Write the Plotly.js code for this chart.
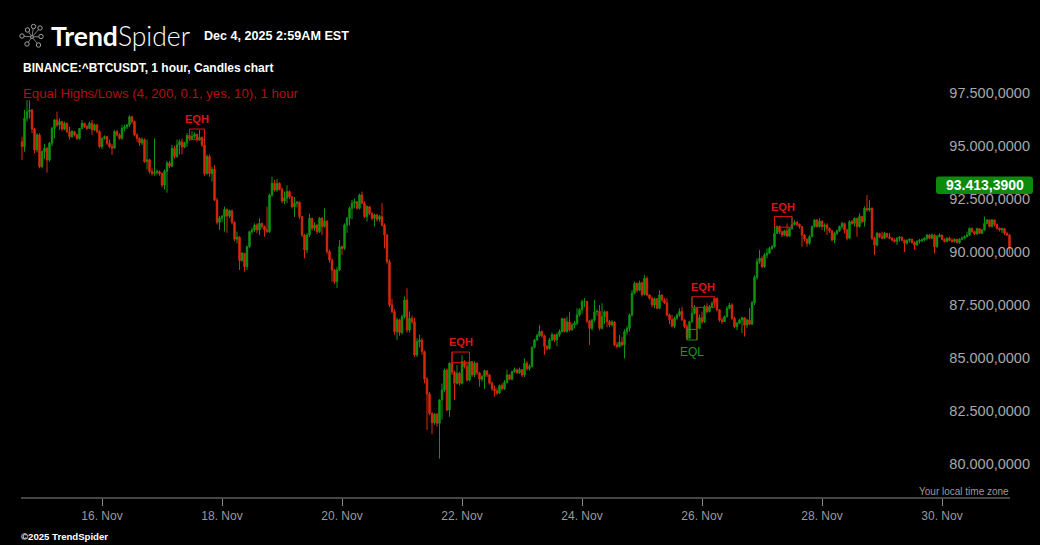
<!DOCTYPE html>
<html><head><meta charset="utf-8">
<script src="https://cdn.plot.ly/plotly-3.0.1.min.js"></script>
<style>html,body{margin:0;padding:0;background:#000;}#chart{width:1040px;height:545px;}</style>
</head><body><div id="chart"></div>
<script>
// ---------------- DATA (BTC/USDT, 1 hour candles, prices in thousands of USDT) ----------------
const startTime = '2025-11-14T16:00:00';   // first candle, one candle per hour

const opens = [
95.20,94.97,96.31,96.62,96.70,95.80,94.81,95.52,
94.03,94.73,94.89,94.34,95.13,95.83,96.23,95.99,96.15,95.80,96.07,95.68,95.44,95.68,95.52,95.36,95.83,96.07,95.91,95.83,96.07,95.76,96.00,95.68,
94.97,95.36,95.44,95.13,94.97,94.90,95.68,95.52,95.36,95.83,95.90,95.99,96.38,96.15,95.52,95.36,95.15,95.30,94.26,94.35,93.80,93.70,93.75,93.79,
93.70,93.16,93.80,94.20,94.05,94.89,94.50,95.05,95.20,94.95,95.15,95.50,95.35,95.45,95.55,95.30,95.40,95.05,93.70,94.50,93.70,93.90,92.45,91.40,
91.60,91.67,92.00,91.70,91.95,91.40,90.60,90.70,89.60,89.94,89.31,90.25,90.96,91.04,91.27,91.04,91.35,91.20,91.04,90.96,92.69,93.24,92.92,93.24,
92.95,92.40,92.55,92.85,92.60,92.14,92.30,92.35,91.67,90.80,90.10,90.80,91.59,91.12,91.27,90.96,91.59,91.20,91.45,90.02,89.62,89.15,88.60,89.15,
90.25,90.17,91.27,91.59,92.06,92.30,92.37,92.06,92.69,92.30,91.67,92.14,91.82,91.59,91.75,91.55,91.67,91.27,90.80,89.54,87.50,87.19,86.24,86.80,
86.20,86.95,87.74,86.32,86.87,86.71,85.14,85.77,85.85,85.30,84.00,83.30,82.39,81.95,82.35,81.92,83.02,83.49,84.43,82.55,84.75,84.33,83.81,84.28,
83.81,84.83,84.59,83.96,84.83,84.20,84.75,84.30,84.00,84.12,84.40,84.20,83.81,83.55,83.45,83.35,83.70,83.55,83.85,84.20,84.00,84.35,84.45,84.30,
84.45,84.20,84.75,84.50,84.60,85.50,85.85,86.05,86.25,86.05,85.55,85.45,85.85,86.10,85.85,86.10,86.25,86.85,86.25,86.70,86.32,86.55,86.64,87.03,
87.27,87.65,87.66,86.75,86.40,86.79,87.18,87.20,86.40,86.95,87.18,86.72,86.56,86.70,85.62,85.54,85.75,85.62,86.24,86.40,87.03,88.05,88.52,88.20,
88.55,88.00,88.76,87.97,87.82,87.50,87.80,87.35,87.97,87.74,87.60,87.03,86.80,86.50,86.87,87.03,87.19,86.80,86.48,85.93,86.71,87.11,87.34,86.40,
86.90,86.71,87.42,87.19,87.42,87.58,87.82,87.27,86.79,86.72,86.95,87.34,87.50,86.87,86.48,86.64,86.79,86.90,86.55,86.79,86.60,87.60,88.80,89.55,
89.70,89.31,89.86,89.94,90.17,90.25,90.88,91.20,90.95,90.80,91.00,90.75,91.10,91.30,91.40,91.30,91.20,90.80,90.60,90.41,90.72,91.20,91.51,91.20,
91.45,91.20,91.27,91.12,91.00,90.57,90.88,91.00,91.20,91.35,91.04,90.65,91.43,91.35,91.59,91.20,91.67,91.43,92.06,91.98,92.06,90.65,90.33,90.88,
90.72,90.65,90.88,90.72,90.65,90.57,90.49,90.65,90.70,90.55,90.41,90.55,90.60,90.45,90.33,90.50,90.55,90.57,90.65,90.80,90.65,90.80,90.25,90.72,
90.80,90.60,90.50,90.65,90.55,90.50,90.60,90.45,90.60,90.65,90.72,90.80,91.12,90.96,90.85,91.10,90.88,91.04,91.35,91.51,91.20,91.51,91.30,91.12,
91.04,91.10,90.88,90.80
];

const highs = [
95.44,96.70,97.17,97.15,96.75,95.85,95.60,95.60,
94.80,95.10,94.95,95.20,95.90,96.27,96.62,96.31,96.18,96.15,96.10,95.91,95.75,95.70,95.60,95.85,96.23,96.10,96.00,96.15,96.23,96.05,96.02,95.76,
95.40,95.50,95.48,95.30,95.10,95.75,95.76,95.60,95.99,96.00,96.05,96.45,96.42,96.20,95.60,95.40,95.40,95.36,95.30,94.40,93.95,95.36,93.90,93.85,
93.75,93.90,94.30,94.30,95.05,95.00,95.30,95.30,95.35,95.20,95.60,95.80,95.70,95.65,95.58,95.75,95.45,95.80,94.60,94.60,94.03,94.10,92.55,91.70,
91.75,92.14,92.05,92.00,92.00,91.45,90.96,90.75,90.00,89.95,90.30,91.00,91.15,91.35,91.35,91.60,91.38,91.25,92.14,92.75,93.55,93.40,93.45,93.28,
93.05,92.85,93.15,92.90,92.65,92.60,92.40,92.38,91.70,90.85,90.90,91.80,91.60,91.40,91.30,91.65,91.65,92.06,91.50,90.10,89.70,89.20,89.30,90.56,
90.30,91.35,91.65,92.15,92.45,92.53,92.40,92.75,92.85,92.40,92.20,92.16,91.90,91.80,91.80,91.75,92.30,91.35,90.85,89.65,87.80,87.30,86.90,86.85,
87.05,87.90,88.29,87.20,87.00,86.90,85.93,86.10,85.95,85.35,84.10,83.40,82.45,82.40,82.40,83.05,83.80,84.50,84.50,84.80,85.28,84.40,84.67,84.35,
85.14,84.90,84.80,85.28,84.85,84.85,84.80,84.35,84.20,84.45,84.40,84.25,83.90,83.70,83.60,83.75,83.80,83.95,84.45,84.25,84.40,84.55,84.50,84.55,
84.48,84.98,84.85,84.70,85.55,85.90,86.15,86.55,86.30,86.10,85.60,85.95,86.20,86.12,86.20,86.35,86.90,86.88,86.95,87.18,86.65,86.75,87.35,87.35,
87.75,87.82,87.70,86.80,86.85,87.73,87.30,87.50,87.58,87.25,87.20,86.80,86.80,86.72,85.75,86.08,86.00,86.35,86.50,87.10,88.20,88.60,88.55,88.65,
88.60,88.92,88.85,88.00,87.90,87.85,87.80,88.20,88.00,87.82,87.82,87.10,87.03,86.95,87.10,87.34,87.42,86.85,86.60,86.75,87.89,87.50,87.40,87.05,
87.19,87.50,87.58,87.50,87.66,87.89,87.85,87.30,86.90,87.00,87.45,87.60,87.58,86.95,86.70,86.85,86.95,86.92,86.85,87.35,87.70,88.90,89.70,90.10,
89.80,89.95,90.17,90.25,90.33,91.67,91.25,91.25,91.00,91.05,91.35,91.15,91.67,91.50,91.45,91.35,91.20,90.85,90.65,90.80,91.25,91.55,91.55,91.60,
91.50,91.35,91.35,91.15,91.04,90.95,91.05,91.25,91.43,91.38,91.10,91.50,91.51,91.62,91.60,91.82,91.70,92.15,92.69,92.45,92.10,90.72,90.95,90.90,
90.96,90.95,90.90,90.90,90.70,90.65,90.70,90.75,90.72,90.60,90.60,90.65,90.62,90.50,90.55,90.62,90.65,90.70,90.85,90.85,90.88,90.82,90.80,90.88,
90.82,90.65,90.70,90.72,90.65,90.65,90.62,90.65,90.72,90.78,90.96,91.15,91.15,91.00,91.15,91.12,91.08,91.67,91.55,91.53,91.55,91.53,91.35,91.15,
91.15,91.12,90.95,90.85
];

const lows = [
94.34,94.73,96.15,96.30,95.60,94.65,94.70,93.95,
93.95,94.40,93.74,94.26,95.00,95.36,95.90,95.76,95.70,95.75,95.60,95.30,95.38,95.45,95.28,95.30,95.80,95.85,95.75,95.80,95.52,95.70,95.60,94.90,
94.85,95.30,95.05,94.90,94.58,94.88,95.45,95.30,95.30,95.70,95.80,95.90,96.05,95.45,95.20,95.00,95.05,94.20,93.90,93.70,93.60,93.60,93.65,93.60,
93.05,92.95,92.80,93.95,94.00,94.40,94.45,94.60,94.60,94.90,94.95,95.25,95.30,95.35,95.20,95.25,94.95,93.60,93.65,93.55,93.32,92.40,91.30,91.04,
91.40,90.96,90.90,91.60,91.30,90.50,90.40,89.15,89.55,89.07,89.15,90.20,90.85,90.95,90.88,90.80,91.10,90.72,90.90,90.90,92.60,92.85,92.85,92.90,
92.30,92.25,92.30,92.50,92.05,91.65,92.10,91.55,90.70,89.70,89.95,90.70,91.00,91.00,90.85,90.90,90.80,91.15,89.90,89.50,88.60,88.50,88.30,89.10,
89.86,90.10,90.90,91.25,91.55,92.06,92.00,92.00,92.25,91.60,91.43,91.75,91.50,91.20,91.43,91.43,91.20,90.17,89.45,87.40,87.10,86.10,85.85,86.05,
86.10,86.85,86.20,86.20,86.60,85.05,85.05,85.50,85.15,83.80,81.60,82.30,81.40,81.85,81.76,80.25,82.10,83.40,82.50,82.23,84.20,83.02,83.75,83.70,
83.75,84.50,83.90,83.90,84.10,84.10,84.20,83.65,83.90,83.55,84.10,83.75,83.45,83.18,83.25,83.30,83.45,83.50,83.80,83.95,83.95,84.30,84.25,84.25,
84.10,84.10,84.40,84.40,84.55,85.45,85.80,86.00,85.95,85.15,85.35,85.40,85.80,85.75,85.55,86.00,86.20,86.20,86.20,86.25,86.30,86.40,86.55,86.95,
87.10,87.40,86.65,85.62,86.30,86.70,87.00,86.30,86.35,86.60,86.45,86.45,86.50,85.55,85.45,85.50,85.55,84.98,86.10,86.25,86.95,88.00,88.10,88.15,
87.90,87.95,87.90,87.75,87.40,87.35,87.30,87.30,87.65,87.55,86.95,86.60,86.45,86.40,86.80,86.95,86.75,86.40,85.85,85.90,86.65,87.05,85.85,86.35,
86.60,86.65,87.10,87.15,87.35,87.50,87.20,86.70,86.60,86.70,86.90,87.30,86.80,86.40,86.32,86.60,86.17,86.01,86.40,86.55,86.55,87.50,88.70,89.45,
89.25,89.25,89.70,89.90,90.10,90.20,90.85,90.85,90.70,90.75,90.70,90.70,91.05,91.25,91.20,91.10,90.25,90.50,90.25,90.35,90.70,91.15,91.15,91.15,
91.04,90.96,90.80,90.90,90.50,90.41,90.80,90.95,91.10,90.88,90.55,90.60,91.28,91.20,90.72,91.15,91.35,91.20,91.90,91.90,90.55,89.86,90.25,90.65,
90.60,90.60,90.65,90.60,90.50,90.45,90.33,90.50,90.50,90.00,90.35,90.45,90.40,90.10,90.30,90.40,90.45,90.50,90.55,90.60,90.60,89.94,90.20,90.70,
90.55,90.45,90.45,90.50,90.45,90.45,90.40,90.38,90.55,90.60,90.70,90.75,90.90,90.80,90.80,90.85,90.85,91.00,91.30,91.15,91.15,91.20,91.05,90.96,
90.90,90.80,90.75,89.90
];

const closes = [
94.97,96.31,96.62,96.70,95.80,94.81,95.52,94.03,
94.73,94.89,94.34,95.13,95.83,96.23,95.99,96.15,95.80,96.07,95.68,95.44,95.68,95.52,95.36,95.83,96.07,95.91,95.83,96.07,95.76,96.00,95.68,94.97,
95.36,95.44,95.13,94.97,94.90,95.68,95.52,95.36,95.83,95.90,95.99,96.38,96.15,95.52,95.36,95.15,95.30,94.26,94.35,93.80,93.70,93.75,93.79,93.70,
93.16,93.80,94.20,94.05,94.89,94.50,95.05,95.20,94.95,95.15,95.50,95.35,95.45,95.55,95.30,95.40,95.05,93.70,94.50,93.70,93.90,92.45,91.40,91.60,
91.67,92.00,91.70,91.95,91.40,90.60,90.70,89.60,89.94,89.31,90.25,90.96,91.04,91.27,91.04,91.35,91.20,91.04,90.96,92.69,93.24,92.92,93.24,92.95,
92.40,92.55,92.85,92.60,92.14,92.30,92.35,91.67,90.80,90.10,90.80,91.59,91.12,91.27,90.96,91.59,91.20,91.45,90.02,89.62,89.15,88.60,89.15,90.25,
90.17,91.27,91.59,92.06,92.30,92.37,92.06,92.69,92.30,91.67,92.14,91.82,91.59,91.75,91.55,91.67,91.27,90.80,89.54,87.50,87.19,86.24,86.80,86.20,
86.95,87.74,86.32,86.87,86.71,85.14,85.77,85.85,85.30,84.00,83.30,82.39,81.95,82.35,81.92,83.02,83.49,84.43,82.55,84.75,84.33,83.81,84.28,83.81,
84.83,84.59,83.96,84.83,84.20,84.75,84.30,84.00,84.12,84.40,84.20,83.81,83.55,83.45,83.35,83.70,83.55,83.85,84.20,84.00,84.35,84.45,84.30,84.45,
84.20,84.75,84.50,84.60,85.50,85.85,86.05,86.25,86.05,85.55,85.45,85.85,86.10,85.85,86.10,86.25,86.85,86.25,86.70,86.32,86.55,86.64,87.03,87.27,
87.65,87.66,86.75,86.40,86.79,87.18,87.20,86.40,86.95,87.18,86.72,86.56,86.70,85.62,85.54,85.75,85.62,86.24,86.40,87.03,88.05,88.52,88.20,88.55,
88.00,88.76,87.97,87.82,87.50,87.80,87.35,87.97,87.74,87.60,87.03,86.80,86.50,86.87,87.03,87.19,86.80,86.48,85.93,86.71,87.11,87.34,86.40,86.90,
86.71,87.42,87.19,87.42,87.58,87.82,87.27,86.79,86.72,86.95,87.34,87.50,86.87,86.48,86.64,86.79,86.90,86.55,86.79,86.60,87.60,88.80,89.55,89.70,
89.31,89.86,89.94,90.17,90.25,90.88,91.20,90.95,90.80,91.00,90.75,91.10,91.30,91.40,91.30,91.20,90.80,90.60,90.41,90.72,91.20,91.51,91.20,91.45,
91.20,91.27,91.12,91.00,90.57,90.88,91.00,91.20,91.35,91.04,90.65,91.43,91.35,91.59,91.20,91.67,91.43,92.06,91.98,92.06,90.65,90.33,90.88,90.72,
90.65,90.88,90.72,90.65,90.57,90.49,90.65,90.70,90.55,90.41,90.55,90.60,90.45,90.33,90.50,90.55,90.57,90.65,90.80,90.65,90.80,90.25,90.72,90.80,
90.60,90.50,90.65,90.55,90.50,90.60,90.45,90.60,90.65,90.72,90.80,91.12,90.96,90.85,91.10,90.88,91.04,91.35,91.51,91.20,91.51,91.30,91.12,91.04,
91.10,90.88,90.80,90.15
];

// Equal highs / lows found by the indicator (candle index of both touches, price level)
const eqKinds      = ['EQH', 'EQH', 'EQH', 'EQL', 'EQH'];
const eqFirstIndex = [67, 172, 268, 266, 301];
const eqLastIndex  = [73, 179, 277, 270, 308];
const eqLevels     = [95.80, 85.28, 87.89, 85.85, 91.67];

// Axis tick labels
const yTickValues = [80, 82.5, 85, 87.5, 90, 92.5, 95, 97.5];
const yTickLabels = ['80.000,0000', '82.500,0000', '85.000,0000', '87.500,0000',
                     '90.000,0000', '92.500,0000', '95.000,0000', '97.500,0000'];
const lastPriceText = '93.413,3900';

// Header texts
const headerDate   = 'Dec 4, 2025 2:59AM EST';
const headerSymbol = 'BINANCE:^BTCUSDT, 1 hour, Candles chart';
const headerStudy  = 'Equal Highs/Lows (4, 200, 0.1, yes, 10), 1 hour';

// ---------------- BUILD ----------------
const GREEN = '#129312', RED = '#d8290a';
const t0 = Date.parse(startTime + 'Z');
const stamp = ms => new Date(ms).toISOString().slice(0, 19).replace('T', ' ');
const times = closes.map((_, i) => stamp(t0 + i * 3600000));

const L = 18, R = 1033, T = 80, B = 498;         // plot area in pixels
const px = x => (x - L) / (R - L);
const py = y => (B - y) / (B - T);

const trace = {
  type: 'candlestick', x: times, open: opens, high: highs, low: lows, close: closes,
  increasing: { line: { color: GREEN, width: 1 }, fillcolor: GREEN },
  decreasing: { line: { color: RED, width: 1 }, fillcolor: RED },
  whiskerwidth: 0, hoverinfo: 'skip', showlegend: false
};

const shapes = [];
const annotations = [];

// bottom axis line
shapes.push({ type: 'line', xref: 'paper', yref: 'paper', x0: px(21), x1: px(1010), y0: 0, y1: 0,
  line: { color: '#8a8a8a', width: 1 } });

// equal highs / lows boxes and labels
const boxH = 0.5;
eqKinds.forEach((k, j) => {
  const isHigh = k === 'EQH';
  const col = isHigh ? '#e01414' : '#1b9a1b';
  const lvl = eqLevels[j];
  const a = t0 + eqFirstIndex[j] * 3600000, b = t0 + eqLastIndex[j] * 3600000;
  shapes.push({ type: 'rect', xref: 'x', yref: 'y', x0: stamp(a), x1: stamp(b),
    y0: lvl, y1: isHigh ? lvl - boxH : lvl + boxH,
    line: { color: col, width: 1 }, fillcolor: 'rgba(0,0,0,0)' });
  annotations.push({ xref: 'x', yref: 'y', x: stamp((a + b) / 2), y: lvl, text: isHigh ? '<b>EQH</b>' : 'EQL',
    showarrow: false, xanchor: 'center', yanchor: isHigh ? 'bottom' : 'top',
    yshift: isHigh ? 2 : -3,
    font: { family: 'Liberation Sans, Arial, sans-serif', size: isHigh ? 11 : 12, color: col } });
});

// last price badge (rounded rectangle)
function roundRect(x0, y0, x1, y1, r) {
  const P = (x, y) => px(x) + ',' + py(y);
  return 'M ' + P(x0 + r, y0) + ' L ' + P(x1 - r, y0) + ' Q ' + P(x1, y0) + ' ' + P(x1, y0 + r) +
         ' L ' + P(x1, y1 - r) + ' Q ' + P(x1, y1) + ' ' + P(x1 - r, y1) +
         ' L ' + P(x0 + r, y1) + ' Q ' + P(x0, y1) + ' ' + P(x0, y1 - r) +
         ' L ' + P(x0, y0 + r) + ' Q ' + P(x0, y0) + ' ' + P(x0 + r, y0) + ' Z';
}
shapes.push({ type: 'path', xref: 'paper', yref: 'paper', path: roundRect(936, 176.5, 1033, 194, 3),
  fillcolor: '#0b8a0b', line: { width: 0 } });
annotations.push({ xref: 'paper', yref: 'paper', x: px(984.5), y: py(184.8), text: '<b>' + lastPriceText + '</b>',
  showarrow: false, xanchor: 'center', yanchor: 'middle',
  font: { family: 'Liberation Sans, Arial, sans-serif', size: 14, color: '#ffffff' } });

// logo icon (small network of nodes)
const nodes = [[22, 36], [27.5, 30], [33.5, 26.5], [40, 28], [32, 37], [41, 36.5], [27, 44], [38.5, 45]];
const links = [[4, 0], [4, 1], [4, 2], [4, 3], [4, 5], [4, 6], [4, 7]];
links.forEach(([a, b]) => shapes.push({ type: 'line', xref: 'paper', yref: 'paper',
  x0: px(nodes[a][0]), y0: py(nodes[a][1]), x1: px(nodes[b][0]), y1: py(nodes[b][1]),
  line: { color: '#7d7d7d', width: 1 } }));
nodes.forEach(([x, y], i) => {
  const r = i === 4 ? 1.4 : 2.2;
  shapes.push({ type: 'circle', xref: 'paper', yref: 'paper',
    x0: px(x - r), x1: px(x + r), y0: py(y + r), y1: py(y - r),
    fillcolor: '#000', line: { color: '#a0a0a0', width: 1 } });
});

const F = 'Liberation Sans, Arial, sans-serif';
annotations.push(
  { xref: 'paper', yref: 'paper', x: px(49), y: py(36), xanchor: 'left', yanchor: 'middle', showarrow: false,
    text: '<b>Trend</b>Spider', font: { family: 'Lato, Open Sans, sans-serif', size: 26.5, color: '#ffffff', weight: 300 } },
  { xref: 'paper', yref: 'paper', x: px(202), y: py(36), xanchor: 'left', yanchor: 'middle', showarrow: false,
    text: '<b>' + headerDate + '</b>', font: { family: F, size: 12.6, color: '#ffffff' } },
  { xref: 'paper', yref: 'paper', x: px(21), y: py(68), xanchor: 'left', yanchor: 'middle', showarrow: false,
    text: '<b>' + headerSymbol + '</b>', font: { family: F, size: 12, color: '#ffffff' } },
  { xref: 'paper', yref: 'paper', x: px(21), y: py(94), xanchor: 'left', yanchor: 'middle', showarrow: false,
    text: headerStudy, font: { family: F, size: 13.2, color: '#b30f0f' } },
  { xref: 'paper', yref: 'paper', x: px(1011), y: py(491.5), xanchor: 'right', yanchor: 'middle', showarrow: false,
    text: 'Your local time zone', font: { family: F, size: 10, color: '#9a9a9a' } },
  { xref: 'paper', yref: 'paper', x: px(19), y: py(536), xanchor: 'left', yanchor: 'middle', showarrow: false,
    text: '<b>©2025 TrendSpider</b>', font: { family: F, size: 9.6, color: '#ffffff' } }
);

const layout = {
  width: 1040, height: 545,
  margin: { l: L, r: 1040 - R, t: T, b: 545 - B, pad: 0 },
  paper_bgcolor: '#000000', plot_bgcolor: '#000000',
  showlegend: false, hovermode: false,
  boxgap: 0.2,
  xaxis: {
    type: 'date', range: ['2025-11-14 14:24:00', '2025-12-01 12:24:00'],
    rangeslider: { visible: false },
    tick0: '2025-11-16', dtick: 2 * 86400000, tickformat: '%d. %b',
    ticks: 'outside', ticklen: 7, tickwidth: 1, tickcolor: '#8a8a8a',
    showgrid: false, zeroline: false, showline: false,
    tickfont: { family: F, size: 12, color: '#9a9a9a' }
  },
  yaxis: {
    side: 'right', range: [78.396, 98.113],
    tickmode: 'array', tickvals: yTickValues, ticktext: yTickLabels,
    ticklabelposition: 'inside', ticks: '',
    showgrid: false, zeroline: false, showline: false,
    tickfont: { family: F, size: 14.5, color: '#a8a8a8' }
  },
  shapes: shapes, annotations: annotations
};

Plotly.newPlot('chart', [trace], layout, { staticPlot: true, displayModeBar: false });
</script>
</body></html>
